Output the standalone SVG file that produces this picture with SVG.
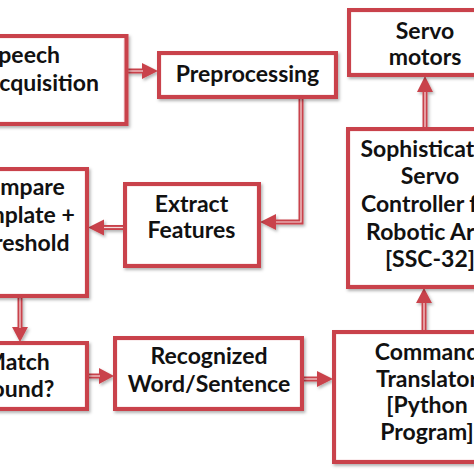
<svg xmlns="http://www.w3.org/2000/svg" width="474" height="474" viewBox="0 0 474 474">
<defs>
<filter id="sh" x="-10%" y="-10%" width="130%" height="130%">
<feDropShadow dx="1.5" dy="2" stdDeviation="1.5" flood-color="#000" flood-opacity="0.3"/>
</filter>
</defs>
<style>
.box{fill:#fff;stroke:#c9434b;stroke-width:5}
.inn{fill:none;stroke:#fff;stroke-width:1.2}
.t{font-family:Lato,"Open Sans",sans-serif;font-weight:700;font-size:23px;fill:#111;text-anchor:middle}
.e{text-anchor:end}
.ln{fill:none;stroke:#c9434b;stroke-width:5;stroke-linejoin:miter}
.lw{fill:none;stroke:#f6dcdd;stroke-width:1.2}
.ah{fill:#c9434b}
</style>
<rect width="474" height="474" fill="#fff"/>
<g id="connectors">
<g filter="url(#sh)">
<path class="ln" d="M127 71H144"/>
<path class="ln" d="M301 98V222H274"/>
<path class="ln" d="M124 227.5H102"/>
<path class="ln" d="M20 297V329"/>
<path class="ln" d="M88 376H101"/>
<path class="ln" d="M303 379H318"/>
<path class="ln" d="M424 331V302"/>
<path class="ln" d="M425 128V91"/>
<polygon class="ah" points="158,71 142,63 142,79"/>
<polygon class="ah" points="260,222 276,214 276,230"/>
<polygon class="ah" points="88,227.5 104,219.5 104,235.5"/>
<polygon class="ah" points="20,342 12,327 28,327"/>
<polygon class="ah" points="114,376 99,368 99,384"/>
<polygon class="ah" points="333,379 317,371 317,387"/>
<polygon class="ah" points="424,288 416,303 432,303"/>
<polygon class="ah" points="425,76 417,92 433,92"/>
</g>
<path class="lw" d="M127 71H143"/>
<path class="lw" d="M301 98V222H276"/>
<path class="lw" d="M124 227.5H104"/>
<path class="lw" d="M20 297V328"/>
<path class="lw" d="M88 376H100"/>
<path class="lw" d="M303 379H317"/>
<path class="lw" d="M424 331V303"/>
<path class="lw" d="M425 128V92"/>
</g>
<g id="speech">
<rect class="box" filter="url(#sh)" x="-20" y="36.5" width="146" height="87"/>
<rect class="inn" x="-17.8" y="38.7" width="141.6" height="82.6"/>
<text class="t e" x="60" y="63">Speech</text>
<text class="t e" x="99" y="91">Acquisition</text>
</g>
<g id="preprocessing">
<rect class="box" filter="url(#sh)" x="159.5" y="53.5" width="176" height="43"/>
<rect class="inn" x="161.7" y="55.7" width="171.6" height="38.6"/>
<text class="t" x="247.5" y="82">Preprocessing</text>
</g>
<g id="servo-motors">
<rect class="box" filter="url(#sh)" x="349.5" y="10.5" width="160" height="64"/>
<rect class="inn" x="351.7" y="12.7" width="155.6" height="59.6"/>
<text class="t" x="425" y="38.5">Servo</text>
<text class="t" x="425" y="65">motors</text>
</g>
<g id="ssc32">
<rect class="box" filter="url(#sh)" x="348.5" y="129.5" width="170" height="157"/>
<rect class="inn" x="350.7" y="131.7" width="165.6" height="152.6"/>
<text class="t" x="430" y="157">Sophisticated</text>
<text class="t" x="430" y="184">Servo</text>
<text class="t" x="430" y="212">Controller for</text>
<text class="t" x="430" y="240">Robotic Arm</text>
<text class="t" x="430" y="267">[SSC-32]</text>
</g>
<g id="compare">
<rect class="box" filter="url(#sh)" x="-60" y="169.5" width="146.5" height="126"/>
<rect class="inn" x="-57.8" y="171.7" width="142.1" height="121.6"/>
<text class="t" x="18.5" y="195">Compare</text>
<text class="t" x="18.5" y="222.5">Template +</text>
<text class="t" x="18.5" y="250.5">Threshold</text>
</g>
<g id="extract">
<rect class="box" filter="url(#sh)" x="125.5" y="184.5" width="133" height="81"/>
<rect class="inn" x="127.7" y="186.7" width="128.6" height="76.6"/>
<text class="t" x="191.5" y="212">Extract</text>
<text class="t" x="191.5" y="238">Features</text>
</g>
<g id="match">
<rect class="box" filter="url(#sh)" x="-60" y="343.5" width="146.5" height="65"/>
<rect class="inn" x="-57.8" y="345.7" width="142.1" height="60.6"/>
<text class="t" x="17" y="370">Match</text>
<text class="t" x="17" y="397">Found?</text>
</g>
<g id="recognized">
<rect class="box" filter="url(#sh)" x="115.5" y="338.5" width="186" height="70"/>
<rect class="inn" x="117.7" y="340.7" width="181.6" height="65.6"/>
<text class="t" x="209" y="364">Recognized</text>
<text class="t" x="209" y="392">Word/Sentence</text>
</g>
<g id="command">
<rect class="box" filter="url(#sh)" x="334.5" y="332.5" width="180" height="129"/>
<rect class="inn" x="336.7" y="334.7" width="175.6" height="124.6"/>
<text class="t" x="427" y="360">Command</text>
<text class="t" x="427" y="387">Translator</text>
<text class="t" x="427" y="413">[Python</text>
<text class="t" x="427" y="440">Program]</text>
</g>
</svg>
